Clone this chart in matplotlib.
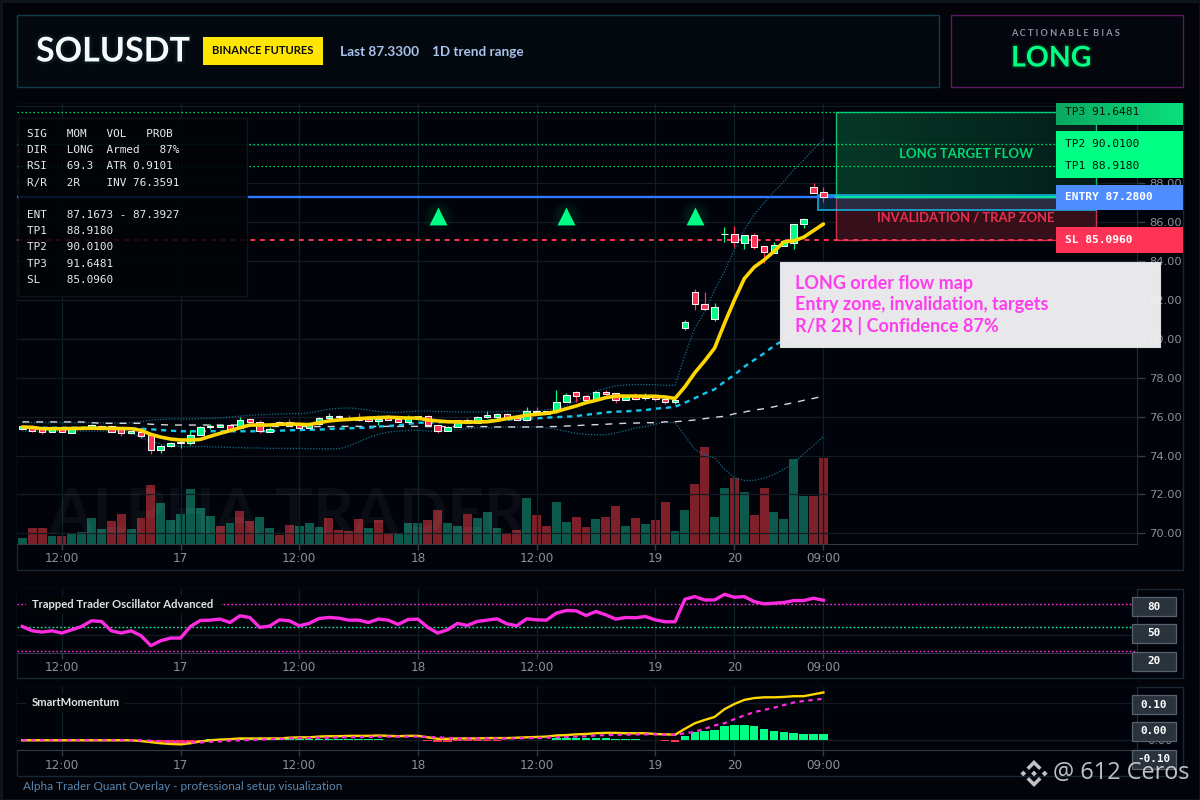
import numpy as np
import matplotlib
matplotlib.use("Agg")
import matplotlib.pyplot as plt
from matplotlib.patches import Rectangle, Polygon
from matplotlib.transforms import Affine2D
import matplotlib.patheffects as pe

W, H = 1200, 800
SANS = "Lato"
MONO = "DejaVu Sans Mono"

# ---------------------------------------------------------------- data
tick_pos = [4, 16, 28, 40, 52, 64, 72, 81]
tick_lab = ["12:00", "17", "12:00", "18", "12:00", "19", "20", "09:00"]

opens = [75.38,75.43,75.38,75.21,75.35,75.18,75.38,75.38,75.52,75.52,75.35,75.14,75.23,75.04,74.30,74.49,74.63,74.63,75.07,75.49,
         75.49,75.55,75.40,75.90,75.74,75.21,75.57,75.74,75.55,75.42,75.61,75.93,76.05,75.95,75.90,75.86,75.78,76.03,75.88,75.74,
         75.86,76.05,75.57,75.26,75.47,75.83,75.69,75.98,75.98,76.15,75.95,75.83,76.31,76.27,76.27,76.77,77.29,77.08,76.89,77.29,
         77.20,76.86,77.06,76.96,77.03,76.93,76.75,80.58,82.40,81.78,81.04,85.38,85.38,84.95,85.33,84.77,84.44,84.80,84.92,85.90,87.82,87.54]
closes = [75.52,75.25,75.21,75.38,75.21,75.35,75.49,75.59,75.42,75.21,75.16,75.26,75.01,74.28,74.51,74.63,74.68,75.07,75.49,75.52,
          75.55,75.37,75.83,75.73,75.25,75.35,75.74,75.57,75.42,75.57,75.95,76.05,75.97,75.83,75.83,75.76,75.88,75.85,75.73,75.91,
          76.03,75.59,75.25,75.49,75.83,75.69,76.00,76.10,76.15,75.90,75.83,76.31,76.22,76.15,76.77,77.13,77.08,76.86,77.29,77.17,
          76.86,77.03,76.89,77.06,76.89,76.77,76.84,80.86,81.78,81.56,81.63,85.42,84.97,85.33,84.74,84.46,84.82,85.04,85.90,86.15,87.49,87.30]
highs = [75.54,75.45,75.40,75.40,75.37,75.37,75.50,75.62,75.55,75.55,75.37,75.28,75.26,75.07,74.53,74.70,74.78,75.33,75.52,75.61,
         75.60,75.57,75.98,75.92,75.81,75.49,75.79,75.90,75.57,75.74,75.97,76.21,76.07,76.10,76.17,75.88,76.10,76.07,75.90,76.10,
         76.05,76.08,75.59,75.51,75.85,75.93,76.05,76.29,76.17,76.17,75.97,76.48,76.51,76.30,77.35,77.23,77.31,77.10,77.31,77.38,
         77.22,77.05,77.23,77.23,77.05,76.95,76.86,80.97,82.57,82.41,81.83,85.76,85.81,85.35,85.46,84.79,84.98,85.06,85.92,86.22,88.00,87.80]
lows = [75.36,75.19,75.09,75.20,75.19,75.16,75.36,75.36,75.40,75.19,75.01,75.12,74.89,74.06,74.13,74.45,74.39,74.54,75.04,75.38,
        75.47,75.35,75.38,75.71,75.18,75.19,75.55,75.55,75.40,75.40,75.59,75.91,75.95,75.81,75.79,75.74,75.57,75.83,75.71,75.72,
        75.84,75.55,75.14,75.24,75.45,75.67,75.67,75.91,75.86,75.88,75.81,75.80,76.12,76.13,76.19,76.75,76.77,76.84,76.87,77.06,
        76.72,76.84,76.87,76.86,76.80,76.63,76.63,80.46,81.50,81.50,80.94,84.99,84.75,84.61,84.64,83.92,84.42,84.78,84.63,85.72,87.49,87.06]

ema_fast = [75.47,75.45,75.38,75.38,75.38,75.39,75.40,75.41,75.40,75.40,75.39,75.38,75.30,75.09,74.95,74.85,74.80,74.80,74.83,74.99,
            75.14,75.28,75.43,75.57,75.57,75.57,75.61,75.62,75.61,75.59,75.69,75.78,75.83,75.86,75.90,75.93,75.95,75.97,75.95,75.93,
            75.93,75.83,75.78,75.74,75.73,75.71,75.73,75.74,75.81,75.90,75.98,76.07,76.12,76.17,76.26,76.41,76.55,76.72,76.84,76.98,
            77.06,77.06,77.06,77.05,77.05,77.01,76.94,77.54,78.26,78.87,79.53,80.80,82.00,83.10,83.69,84.06,84.50,84.99,85.05,85.23,85.57,85.91]
ema_mid = [75.43,75.43,75.43,75.43,75.43,75.43,75.43,75.43,75.43,75.42,75.42,75.40,75.38,75.35,75.31,75.28,75.25,75.25,75.25,75.25,
           75.25,75.25,75.25,75.25,75.25,75.26,75.28,75.30,75.31,75.33,75.33,75.37,75.38,75.40,75.42,75.43,75.49,75.52,75.55,75.62,
           75.69,75.69,75.71,75.73,75.73,75.74,75.76,75.79,75.83,75.85,75.88,75.90,75.91,75.95,75.98,76.00,76.03,76.10,76.15,76.22,
           76.26,76.27,76.31,76.34,76.41,76.45,76.51,76.72,76.95,77.20,77.41,77.80,78.15,78.57,78.92,79.26,79.64,79.95,80.30,80.65,81.00,81.35]
sma_slow = [75.73,75.73,75.73,75.73,75.73,75.73,75.73,75.69,75.66,75.66,75.66,75.66,75.66,75.61,75.59,75.57,75.57,75.57,75.57,75.57,
            75.57,75.57,75.57,75.52,75.50,75.49,75.50,75.50,75.49,75.49,75.49,75.49,75.50,75.50,75.50,75.50,75.50,75.50,75.50,75.50,
            75.50,75.49,75.49,75.49,75.49,75.49,75.49,75.49,75.47,75.47,75.47,75.47,75.47,75.49,75.49,75.52,75.54,75.57,75.59,75.61,
            75.64,75.66,75.67,75.69,75.69,75.73,75.74,75.78,75.83,75.90,75.97,76.02,76.15,76.24,76.34,76.41,76.51,76.62,76.72,76.84,76.94,77.06]
bb_upper = [75.69,75.69,75.69,75.69,75.69,75.69,75.69,75.69,75.69,75.67,75.67,75.69,75.74,75.83,75.86,75.88,75.88,75.88,75.90,75.91,
            75.93,75.98,76.03,76.07,76.10,76.12,76.14,76.15,76.15,76.19,76.29,76.38,76.43,76.45,76.41,76.34,76.26,76.22,76.22,76.26,
            76.29,76.29,76.27,76.26,76.24,76.24,76.24,76.24,76.26,76.27,76.29,76.29,76.29,76.36,76.41,76.58,76.81,77.06,77.32,77.46,
            77.58,77.63,77.65,77.65,77.65,77.61,77.61,79.17,80.56,81.40,82.52,83.46,84.61,85.60,86.38,87.01,87.57,88.10,88.70,89.20,89.75,90.27]
bb_lower = [75.26,75.26,75.26,75.26,75.26,75.26,75.26,75.26,75.26,75.26,75.23,75.18,74.92,74.75,74.58,74.52,74.46,74.46,74.46,74.44,
            74.44,74.42,74.40,74.39,74.39,74.37,74.37,74.37,74.37,74.35,74.35,74.35,74.35,74.49,74.70,74.92,75.09,75.21,75.26,75.28,
            75.30,75.26,75.25,75.30,75.33,75.40,75.42,75.43,75.45,75.47,75.47,75.47,75.47,75.43,75.35,75.25,75.14,75.09,75.07,75.07,
            75.16,75.28,75.42,75.49,75.61,75.73,75.69,75.01,74.32,74.01,73.89,73.29,72.86,72.72,72.72,72.84,73.02,73.29,73.63,74.08,74.52,74.97]

volume = [18,48,48,24,24,33,36,78,45,69,90,45,78,177,123,72,90,165,108,84,54,63,99,69,81,48,27,57,54,63,51,78,42,39,75,48,72,30,33,63,63,
          72,102,63,54,90,78,96,48,33,42,138,87,54,126,66,81,51,75,81,114,54,78,60,72,126,39,102,180,291,81,168,198,156,87,168,96,75,255,144,144,258]
volume_dir = "grrgrggggrrgrrggggggrgrrggrrgggrrrrgrrgg" "g" \
             "rrggrgggrrgrrggrrgrrgrgrrggrrggrgrrggggrr"

osc = [50.8,45.3,43.6,45.3,42.4,46.6,50.8,58.1,57.2,45.3,42.4,45.3,39.0,26.3,32.6,36.0,36.0,50.8,58.5,58.9,60.2,55.9,64.4,62.3,49.6,51.3,
       59.3,58.1,51.7,54.7,61.0,62.3,61.4,58.9,58.9,55.9,60.2,58.9,53.4,59.7,60.2,49.6,42.4,46.6,54.7,52.1,57.2,58.9,60.6,54.2,51.7,60.6,
       59.3,58.9,67.8,71.2,70.8,64.8,69.9,65.7,60.2,62.3,61.9,63.6,59.3,56.8,56.8,85.6,89.0,84.7,84.7,91.9,88.1,89.0,82.6,79.7,80.5,81.4,83.9,83.9,86.9,84.3]
osc_levels = [80, 50, 20]

mom_line = [0,0,0,0,0,0,0,0,0,0,0,0,-2,-5,-8,-10,-11,-8,-3,0,2,3,5,5,5,5,5,7,8,8,10,11,11,12,12,12,13,12,11,12,12,8,4,4,5,5,5,6,6,6,7,8,9,10,13,14,16,17,19,
            20,20,19,19,19,17,16,15,31,46,55,63,84,98,109,114,116,116,117,119,119,124,129]
mom_signal = [0,0,0,0,0,0,0,0,0,0,0,0,0,-1,-3,-4,-5,-6,-6,-4,-3,-1,0,1,2,3,4,5,6,6,7,7,8,8,9,9,10,10,10,10,10,9,8,6,5,5,5,5,5,5,5,6,6,7,8,9,10,11,13,
              14,15,15,16,16,16,15,15,19,23,31,40,46,57,67,76,82,88,95,102,106,109,112]
mom_hist = [0,0,0,0,0,0,0,0,0,0,0,0,0,-3,-4,-6,-8,-8,-4,3,4.5,4.5,4.5,4.5,4.5,4.5,4,4,4,4,4,4.5,4.5,4.5,4.5,4.5,3,2,1,1,1,-2,-4,-4,-3,-3,-2,-1,-1,1,1,1,1,2,6,7,7,6,6,
            6,4.5,4,4.5,1,1,-2,-4,12,23,25,29,39,41,41,39,31,25,22,20,17,17,17]

price_ticks = [70,72,74,76,78,80,82,84,86,88,90,92]
tp1, tp2, tp3, entry, sl = 88.918, 90.01, 91.6481, 87.28, 85.096
entry_zone_top, entry_zone_bottom = 87.40, 86.65
signal_idx = [42, 55, 68]
signal_price = [86.32, 86.32, 86.32]

table_rows = ["SIG   MOM   VOL   PROB", "DIR   LONG  Armed   87%", "RSI   69.3  ATR 0.9101", "R/R   2R    INV 76.3591",
              None, "ENT   87.1673 - 87.3927", "TP1   88.9180", "TP2   90.0100", "TP3   91.6481", "SL    85.0960"]

for arr in (opens, closes, highs, lows, ema_fast, ema_mid, sma_slow, bb_upper, bb_lower, volume, osc, mom_line, mom_signal, mom_hist):
    assert len(arr) == 82, len(arr)
assert len(volume_dir) == 82, len(volume_dir)

# ---------------------------------------------------------------- colours
BG = "#02040a"
PANEL = "#01030a"
GRID_V = "#0e1e26"
GRID_H = "#151b23"
EDGE = "#1a2632"
AXIS = "#323a46"
TICK = "#8a9099"
GREEN = "#00ff85"
RED = "#ff3355"
BLUE = "#2f7bff"
YELLOW = "#ffd600"
CYAN = "#14c8f0"
MAG = "#ff2be0"

fig = plt.figure(figsize=(W/100, H/100), dpi=100, facecolor=BG)
px_tf = Affine2D().scale(1, -1).translate(0, H)   # top-left pixel coordinates


def rect(l, t, r, b):
    return [l/W, 1-b/H, (r-l)/W, (b-t)/H]


X_PER_BAR = 9.89
X_ZERO = 22.3
PL, PR = 17.3, 1136.5
xlim = ((PL-X_ZERO)/X_PER_BAR, (PR-X_ZERO)/X_PER_BAR)
YLIM_PRICE = (69.45, 92.085)


def idx(px):
    return (px-X_ZERO)/X_PER_BAR


def fpx(px):
    return px*0.72


# ---------------------------------------------------------------- axes
ax_vol = fig.add_axes(rect(PL, 104, PR, 544), zorder=1, facecolor=PANEL)
ax = fig.add_axes(rect(PL, 104, PR, 544), zorder=2, facecolor="none")
ax_osc = fig.add_axes(rect(PL, 589.3, PR, 652.7), zorder=2, facecolor=PANEL)
ax_mom = fig.add_axes(rect(PL, 687.3, PR, 750.3), zorder=2, facecolor=PANEL)

x = np.arange(82)
for a in (ax_vol, ax, ax_osc, ax_mom):
    a.set_xlim(*xlim)
    for s in a.spines.values():
        s.set_visible(False)

# volume
vol_cols = ["#0b5a4c" if d == "g" else "#7e2029" for d in volume_dir]
ax_vol.bar(x, volume, width=0.9, color=vol_cols, zorder=2)
ax_vol.set_ylim(0, 1320)
ax_vol.set_xticks([]); ax_vol.set_yticks([])

# price panel
ax.set_ylim(*YLIM_PRICE)
ax.set_xticks(tick_pos); ax.set_xticklabels(tick_lab)
ax.set_yticks(price_ticks)
ax.set_yticklabels([f"{p:.2f}" if p <= 88 else "" for p in price_ticks])
ax.yaxis.tick_right()
ax.tick_params(axis="x", colors=AXIS, length=4, width=1, pad=2.0, labelcolor=TICK, labelsize=fpx(12))
ax.tick_params(axis="y", colors=AXIS, length=6, width=1, pad=3, labelcolor=TICK, labelsize=fpx(11.5))
ax.grid(axis="x", color=GRID_V, lw=0.9, zorder=0)
ax.grid(axis="y", color=GRID_H, lw=0.9, zorder=0)
ax.set_axisbelow(True)
ax.spines["bottom"].set_visible(True); ax.spines["bottom"].set_color(AXIS)
ax.spines["right"].set_visible(True); ax.spines["right"].set_color("#252c36")

# watermark
ax.text(48, 516, "ALPHA TRADER", transform=px_tf, fontsize=fpx(64), family=SANS, weight="bold",
        color="white", alpha=0.045, va="center", ha="left", zorder=2.2, clip_on=False)

# zones
Z0, Z1 = idx(836), idx(1095.5)
grad = np.linspace(0, 1, 128).reshape(1, -1)
col_a = np.array([0x07, 0x38, 0x27]) / 255
col_b = np.array([0x04, 0x1e, 0x1a]) / 255
img = (col_a[None, None, :]*(1-grad[..., None]) + col_b[None, None, :]*grad[..., None])
ax.imshow(img, extent=(Z0, Z1, entry, tp3), aspect="auto", zorder=2.3, origin="lower", interpolation="bilinear")
ax.add_patch(Rectangle((Z0, entry), Z1-Z0, tp3-entry, fc="none", ec="#10c070", lw=1, zorder=2.4))
ax.add_patch(Rectangle((Z0, sl), Z1-Z0, entry-sl, fc="#35101a", ec="#c9344e", lw=1, zorder=2.3))
ax.add_patch(Rectangle((idx(818.4), entry_zone_bottom), Z1-idx(818.4), entry_zone_top-entry_zone_bottom,
                       fc="#1a6fb0", alpha=0.28, ec="none", zorder=2.5))
ax.add_patch(Rectangle((idx(818.4), entry_zone_bottom), Z1-idx(818.4), entry_zone_top-entry_zone_bottom,
                       fc="none", ec="#18b6e6", lw=1.1, zorder=2.5))
ax.text(966, 154, "LONG TARGET FLOW", transform=px_tf, color="#00d874", fontsize=fpx(13.2), family=SANS,
        weight="bold", ha="center", va="center", zorder=2.6, clip_on=False)
ax.text(966, 218, "INVALIDATION / TRAP ZONE", transform=px_tf, color="#e8304e", fontsize=fpx(13), family=SANS,
        weight="bold", ha="center", va="center", zorder=2.6, clip_on=False)

# levels
for p in (tp3, tp2, tp1):
    ax.axhline(p, color="#00e07a", lw=0.9, ls=(0, (1.2, 2)), zorder=2.7)
ax.axhline(entry, color=BLUE, lw=1.7, zorder=2.7)
ax.plot([Z0, Z1], [entry, entry], color="#00e0a0", lw=1.7, zorder=2.75)
ax.axhline(sl, color=RED, lw=1.4, ls=(0, (2.5, 2.5)), zorder=2.7)

# bollinger and averages
dots = dict(color="#14708a", lw=0.9, ls=(0, (1, 1.3)), zorder=3)
ax.plot(x, bb_upper, **dots)
ax.plot(x, bb_lower, **dots)
ax.plot(x, sma_slow, color="#d8d8dc", lw=1.0, ls=(0, (5, 5)), zorder=3.1)
ax.plot(x, ema_mid, color=CYAN, lw=1.7, ls=(0, (2.2, 2.0)), zorder=3.2)

# candles
for i in range(82):
    up = closes[i] >= opens[i]
    c = GREEN if up else RED
    ax.plot([i, i], [lows[i], highs[i]], color=c, lw=0.9, zorder=3.3, solid_capstyle="butt")
    lo, hi = min(opens[i], closes[i]), max(opens[i], closes[i])
    ax.add_patch(Rectangle((i-0.33, lo), 0.66, max(hi-lo, 0.02), fc=c, ec="#f4f6f6", lw=0.75, zorder=3.4))

ax.plot(x, ema_fast, color=YELLOW, lw=2.6, zorder=3.6, solid_capstyle="round", solid_joinstyle="round")

# signals
for r, al in ((16, 0.025), (13, 0.03), (10, 0.04)):
    ax.scatter(signal_idx, signal_price, s=(r*2*0.72)**2, color=GREEN, alpha=al, linewidths=0, zorder=3.0)
ax.scatter(signal_idx, signal_price, marker="^", s=165, color=GREEN, linewidths=0, zorder=3.5)


# level tags
def tag(price, label, fc, tc, bold=False):
    half = 12.85/19.44
    x0 = idx(1056); x1 = idx(1182.7)
    ax.add_patch(Rectangle((x0, price-half), x1-x0, 2*half, fc=fc, ec="none", zorder=6, clip_on=False))
    ax.text(idx(1065), price, label, color=tc, family=MONO, fontsize=fpx(11.3), va="center", ha="left",
            weight="bold" if bold else "normal", zorder=7, clip_on=False)


# TP3 gradient
half_tag = 12.85/19.44
ca = np.array([0x0a, 0xa8, 0x60])/255
cb = np.array([0x0a, 0xe0, 0x7c])/255
img2 = ca[None, None, :]*(1-grad[..., None]) + cb[None, None, :]*grad[..., None]
im2 = ax.imshow(img2, extent=(idx(1056), idx(1182.7), tp3-half_tag, YLIM_PRICE[1]), aspect="auto",
                zorder=6, origin="lower", interpolation="bilinear")
im2.set_clip_on(False)
ax.text(idx(1065), tp3, "TP3 91.6481", color="#02140c", family=MONO, fontsize=fpx(11.3), va="center", zorder=7)
tag(tp2, "TP2 90.0100", GREEN, "#02140c")
tag(tp1, "TP1 88.9180", GREEN, "#02140c")
tag(entry, "ENTRY 87.2800", "#4d8dff", "white", True)
tag(sl, "SL 85.0960", RED, "white", True)
ax.set_xlim(*xlim); ax.set_ylim(*YLIM_PRICE)

# annotation box
ax.add_patch(Rectangle((780, 262), 380, 84.7, transform=px_tf, fc="#f1f1f3", ec="#e2e2e6", lw=0.8,
                       alpha=0.97, zorder=8, clip_on=False))
for yy, s in zip((283, 304.5, 326), ("LONG order flow map", "Entry zone, invalidation, targets", "R/R 2R | Confidence 87%")):
    ax.text(795, yy, s, transform=px_tf, color="#ff3df0", fontsize=fpx(18), family=SANS, weight="bold",
            va="center", ha="left", zorder=9, clip_on=False)

# table
ax.add_patch(Rectangle((17.5, 118), 229, 178, transform=px_tf, fc="#020306", ec="#14181f", lw=0.9,
                       alpha=0.86, zorder=8, clip_on=False))
for yy, s in zip((134, 150, 166, 183, None, 215, 231, 247, 264, 280), table_rows):
    if s:
        ax.text(27, yy, s, transform=px_tf, color="#e6ebef", fontsize=fpx(11), family=MONO,
                va="center", ha="left", zorder=9, clip_on=False)

# oscillator panel
ax_osc.set_ylim(17.3, 98.3)
ax_osc.set_xticks(tick_pos); ax_osc.set_xticklabels(tick_lab)
ax_osc.set_yticks([40]); ax_osc.set_yticklabels([""])
for lv, c in zip(osc_levels, (MAG, "#19f0a8", MAG)):
    ax_osc.axhline(lv, color=c, lw=1.0, ls=(0, (1.2, 1.6)), zorder=3)
ax_osc.plot(x, osc, color=MAG, lw=2.4, zorder=4, solid_joinstyle="round")

# momentum panel
ax_mom.set_ylim(-0.027, 0.143)
ax_mom.set_xticks(tick_pos); ax_mom.set_xticklabels(tick_lab)
ax_mom.set_yticks([0, 0.10]); ax_mom.set_yticklabels(["0.00", ""])
hist = np.array(mom_hist)/1000
ax_mom.bar(x, hist, width=0.87, color=[GREEN if v >= 0 else RED for v in hist], zorder=2)
ax_mom.plot(x, np.array(mom_line)/1000, color=YELLOW, lw=1.7, zorder=3)
ax_mom.plot(x, np.array(mom_signal)/1000, color=MAG, lw=1.6, ls=(0, (2, 2)), zorder=4)

for a in (ax_osc, ax_mom):
    a.yaxis.tick_right()
    a.tick_params(axis="x", colors=AXIS, length=4, width=1, pad=2.0, labelcolor=TICK, labelsize=fpx(12))
    a.tick_params(axis="y", colors=AXIS, length=0, pad=8, labelcolor=TICK, labelsize=fpx(11.5))
    a.grid(axis="x", color=GRID_V, lw=0.9, zorder=0)
    a.grid(axis="y", color=GRID_H, lw=0.9, zorder=0)
    a.set_axisbelow(True)
    a.spines["bottom"].set_visible(True); a.spines["bottom"].set_color(AXIS)
    a.spines["right"].set_visible(True); a.spines["right"].set_color("#252c36")

# panel labels
for a, name, xr, yy in ((ax_osc, "Trapped Trader Oscillator Advanced", 221, 605), (ax_mom, "SmartMomentum", 125, 703)):
    a.add_patch(Rectangle((26, yy-9), xr-26, 18, transform=px_tf, fc="#020408", ec="none", zorder=5, clip_on=False))
    a.text(32, yy, name, transform=px_tf, color="#dfe3e6", family=SANS, weight="bold", fontsize=fpx(11.3),
           va="center", ha="left", zorder=6, clip_on=False)

# value chips
for a, t, lab in ((ax_osc, 597.3, "80"), (ax_osc, 624.3, "50"), (ax_osc, 652.3, "20"),
                  (ax_mom, 695.3, "0.10"), (ax_mom, 722.3, "0.00"), (ax_mom, 750.3, "-0.10")):
    a.add_patch(Rectangle((1132.3, t), 43.3, 18.3, transform=px_tf, fc="#2a323c", ec="#58626e", lw=0.9,
                          zorder=7, clip_on=False))
    a.text(1154, t+9.2, lab, transform=px_tf, color="white", family=MONO, fontsize=fpx(11), ha="center",
           va="center", weight="bold", zorder=8, clip_on=False)

# overlay: frames and header
ov = fig.add_axes([0, 0, 1, 1], zorder=0, facecolor="none")
ov.set_xlim(0, W); ov.set_ylim(H, 0); ov.axis("off")
ov.add_patch(Rectangle((0.5, 0.5), W-1, H-1, fc="none", ec="#10161e", lw=2))
for (l, t, r, b) in ((17.3, 103.7, 1182.7, 570.3), (17.3, 589.3, 1182.7, 678.3), (17.3, 687.3, 1182.7, 776.3)):
    ov.add_patch(Rectangle((l, t), r-l, b-t, fc=PANEL, ec=EDGE, lw=1))
ov.add_patch(Rectangle((17.3, 15.3), 921.7, 71.7, fc="#04090f", ec="#0d3e4a", lw=1))
ov.add_patch(Rectangle((951, 15.3), 232, 71.7, fc="#03060c", ec="#5c1a60", lw=1))

title = ov.text(36, 51.5, "SOLUSDT", color="#f7fafb", fontsize=fpx(34), family=SANS, weight="bold", va="center", ha="left")
title.set_path_effects([pe.withStroke(linewidth=4, foreground="#08141c")])
ov.add_patch(Rectangle((203, 37), 120, 28, fc="#ffe600", ec="none"))
ov.text(263, 51, "BINANCE FUTURES", color="#0a0a0a", fontsize=fpx(11.2), family=SANS, weight="bold", va="center", ha="center")
ov.text(340, 51.5, "Last 87.3300", color="#a9c3ee", fontsize=fpx(13.6), family=SANS, weight="bold", va="center")
ov.text(432, 51.5, "1D trend range", color="#a9c3ee", fontsize=fpx(13.5), family=SANS, weight="bold", va="center")
ov.text(1011, 34, "A C T I O N A B L E  B I A S", color="#8c94a6", fontsize=fpx(9.2), family=SANS, weight="bold", va="center")
lg = ov.text(1011, 58.5, "LONG", color=GREEN, fontsize=fpx(28.5), family=SANS, weight="bold", va="center")
lg.set_path_effects([pe.withStroke(linewidth=3, foreground="#032016")])
ov.text(23, 787, "Alpha Trader Quant Overlay - professional setup visualization", color="#5a86ad",
        fontsize=fpx(11.7), family=SANS, va="center")

# corner mark
top = fig.add_axes([0, 0, 1, 1], zorder=10, facecolor="none")
top.set_xlim(0, W); top.set_ylim(H, 0); top.axis("off")
mark = "#d2d4d6"
cx, cy = 1034, 773.5
upper_chev = [(0, -13.5), (7.5, -6), (5, -3.5), (0, -8.5), (-5, -3.5), (-7.5, -6)]
top.add_patch(Polygon([(cx+a, cy+b) for a, b in upper_chev], closed=True, fc=mark, ec="none", alpha=0.92))
top.add_patch(Polygon([(cx+a, cy-b) for a, b in upper_chev], closed=True, fc=mark, ec="none", alpha=0.92))
for dx in (-10.7, 0, 10.7):
    pts = [(cx+dx, cy-2.9), (cx+dx+2.9, cy), (cx+dx, cy+2.9), (cx+dx-2.9, cy)]
    top.add_patch(Polygon(pts, closed=True, fc=mark, ec="none", alpha=0.92))
top.text(1053, 773, "@ 612 Ceros", color=mark, fontsize=fpx(23.5), family="Open Sans", va="center", ha="left", alpha=0.92)

fig.savefig("out.png", dpi=100, facecolor=BG)
